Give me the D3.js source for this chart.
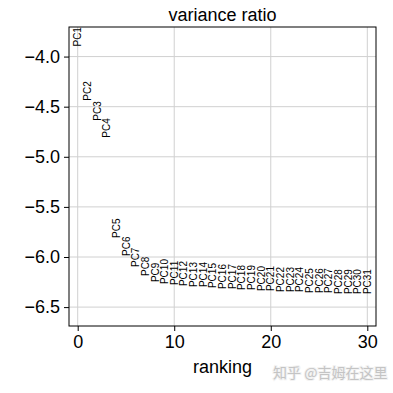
<!DOCTYPE html>
<html><head><meta charset="utf-8">
<script src="https://cdn.jsdelivr.net/npm/d3@7"></script>
<style>body{margin:0;background:#fff}svg{display:block}</style>
</head><body>
<script>
const labels = ["PC1","PC2","PC3","PC4","PC5","PC6","PC7","PC8","PC9","PC10","PC11","PC12","PC13","PC14","PC15","PC16","PC17","PC18","PC19","PC20","PC21","PC22","PC23","PC24","PC25","PC26","PC27","PC28","PC29","PC30","PC31"];
const scores = [-3.90,-4.44,-4.64,-4.81,-5.81,-5.99,-6.10,-6.19,-6.25,-6.27,-6.28,-6.29,-6.30,-6.30,-6.31,-6.32,-6.32,-6.33,-6.33,-6.34,-6.34,-6.35,-6.35,-6.35,-6.36,-6.36,-6.36,-6.37,-6.37,-6.37,-6.37];
const xTicks = [0,10,20,30];
const yTicks = [-4.0,-4.5,-5.0,-5.5,-6.0,-6.5];

const W = 393, H = 393;
const L = 69, R = 376, T = 27, B = 326;
const svg = d3.select("body").append("svg").attr("width", W).attr("height", H)
  .style("font-family", "'Liberation Sans', Arial, sans-serif");

const smin = d3.min(scores), smax = d3.max(scores);
const x = d3.scaleLinear().domain([-0.9, labels.length - 1 + 0.9]).range([L, R]);
const y = d3.scaleLinear().domain([1.05 * smin, 0.95 * smax]).range([B, T]);

// grid
svg.append("g").selectAll("line").data(xTicks).join("line")
  .attr("x1", d => x(d)).attr("x2", d => x(d)).attr("y1", T).attr("y2", B)
  .attr("stroke", "#d0d0d0").attr("stroke-width", 1);
svg.append("g").selectAll("line").data(yTicks).join("line")
  .attr("y1", d => y(d)).attr("y2", d => y(d)).attr("x1", L).attr("x2", R)
  .attr("stroke", "#d0d0d0").attr("stroke-width", 1);

const fmt = d => d3.format(".1f")(d).replace("-", "\u2212");

// axes
const xAxis = svg.append("g").attr("transform", `translate(0,${B})`)
  .call(d3.axisBottom(x).tickValues(xTicks).tickSize(5).tickPadding(4).tickFormat(d3.format("d")));
const yAxis = svg.append("g").attr("transform", `translate(${L},0)`)
  .call(d3.axisLeft(y).tickValues(yTicks).tickSize(5).tickPadding(4).tickFormat(fmt));
[xAxis, yAxis].forEach(a => {
  a.select(".domain").remove();
  a.selectAll("text").attr("font-size", 18).attr("fill", "#000").attr("font-family", "'Liberation Sans', Arial, sans-serif");
  a.selectAll("line").attr("stroke", "#000").attr("stroke-width", 1);
});

// frame
svg.append("rect").attr("x", L).attr("y", T).attr("width", R - L).attr("height", B - T)
  .attr("fill", "none").attr("stroke", "#000").attr("stroke-width", 1);

// labels
svg.append("g").selectAll("text").data(labels).join("text")
  .attr("transform", (d, i) => `translate(${x(i)},${y(scores[i])}) rotate(-90)`)
  .attr("dy", "0.36em").attr("font-size", 10).attr("fill", "#000")
  .text(d => d);

// title & xlabel
svg.append("text").attr("x", (L + R) / 2).attr("y", 21).attr("text-anchor", "middle")
  .attr("font-size", 18).text("variance ratio");
svg.append("text").attr("x", (L + R) / 2).attr("y", 373).attr("text-anchor", "middle")
  .attr("font-size", 18).text("ranking");

// watermark
svg.append("text").attr("x", 273).attr("y", 378).attr("font-size", 14)
  .attr("font-family", "'Noto Sans CJK SC', sans-serif")
  .attr("fill", "#c4c4c4").attr("stroke", "#f2f2f2").attr("stroke-width", 2).attr("paint-order", "stroke")
  .text("知乎 @吉姆在这里");
</script>
</body></html>
